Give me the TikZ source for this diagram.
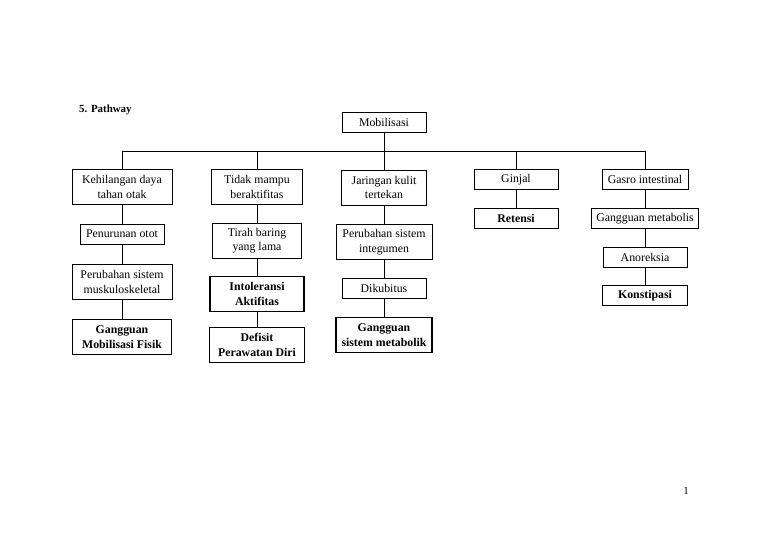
\documentclass[tikz,border=0pt]{standalone}
\usepackage{fontspec}
\setmainfont{Liberation Serif}
\usetikzlibrary{positioning}

\begin{document}
\begin{tikzpicture}
    [
        x=0.03867cm, y=-0.03867cm,
        on grid,
        box/.style={draw, rectangle, align=center, line width=0.6pt, inner sep=2pt, minimum height=0.77cm, font=\fontsize{13}{16}\selectfont},
        tallbox/.style={box, minimum height=1.36cm},
        endbox/.style={tallbox, line width=1.3pt, font=\fontsize{13}{16}\selectfont\bfseries},
        link/.style={draw, line width=0.6pt}
    ]
        \useasboundingbox (0,0) rectangle (768,543);
        % =========================================================================
        % NODES
        % =========================================================================
        \node [anchor=west, font=\fontsize{12}{14}\selectfont\bfseries] (title) at (76,110) {5. Pathway};
        \node [box, minimum width=3.25cm] (mob) at (384,122) {Mobilisasi};
        % --- Column 1 ---
        \node [tallbox, minimum width=3.87cm] (keh) at (122,187) {Kehilangan daya\\tahan otak};
        \node [box, minimum width=3.25cm, below=1.82cm of keh] (pen) {Penurunan otot};
        \node [tallbox, minimum width=3.87cm, below=1.86cm of pen] (perMusk) {Perubahan sistem\\muskuloskeletal};
        \node [endbox, minimum width=3.83cm, below=2.13cm of perMusk] (gangFisik) {Gangguan\\Mobilisasi Fisik};
        % --- Column 2 ---
        \node [tallbox, minimum width=3.52cm] (tid) at (257,187) {Tidak mampu\\beraktifitas};
        \node [tallbox, minimum width=3.44cm, below=2.07cm of tid] (tirah) {Tirah baring\\yang lama};
        \node [endbox, minimum width=3.63cm, below=2.07cm of tirah] (intol) {Intoleransi\\Aktifitas};
        \node [endbox, minimum width=3.67cm, below=1.97cm of intol] (defisit) {Defisit\\Perawatan Diri};
        % --- Column 3 ---
        \node [tallbox, minimum width=3.29cm] (jar) at (384,187.5) {Jaringan kulit\\tertekan};
        \node [tallbox, minimum width=3.71cm, below=2.11cm of jar] (perInteg) {Perubahan sistem\\integumen};
        \node [box, minimum width=3.25cm, below=1.80cm of perInteg] (dikub) {Dikubitus};
        \node [endbox, minimum width=3.71cm, below=1.80cm of dikub] (gangMeta) {Gangguan\\sistem metabolik};
        % --- Column 4 ---
        \node [box, minimum width=3.25cm] (gin) at (516,179.5) {Ginjal};
        \node [box, minimum width=3.25cm, below=1.51cm of gin, font=\fontsize{13}{16}\selectfont\bfseries] (retensi) {Retensi};
        % --- Column 5 ---
        \node [box, minimum width=3.33cm] (gas) at (645,179) {Gasro intestinal};
        \node [box, minimum width=4.14cm, below=1.53cm of gas] (gangMetab) {Gangguan metabolis};
        \node [box, minimum width=3.25cm, below=1.51cm of gangMetab] (anor) {Anoreksia};
        \node [box, minimum width=3.29cm, below=1.47cm of anor, line width=1.3pt, font=\fontsize{13}{16}\selectfont\bfseries] (konst) {Konstipasi};
        % --- Page number ---
        \node [font=\fontsize{12}{14}\selectfont] (page) at (686,491) {1};

        % =========================================================================
        % PATHS
        % =========================================================================
        % --- BUS ---
        \coordinate (bus) at (384,151);
        \draw [link] (mob.south) -- (jar.north);
        \draw [link] (keh.north) -- (keh.north |- bus) -| (gas.north);
        \draw [link] (tid.north) -- (tid.north |- bus);
        \draw [link] (gin.north) -- (gin.north |- bus);
        % --- VERTICAL ---
        %  Column 1
        \draw [link] (keh.south) -- (pen.north);
        \draw [link] (pen.south) -- (perMusk.north);
        \draw [link] (perMusk.south) -- (gangFisik.north);
        %  Column 2
        \draw [link] (tid.south) -- (tirah.north);
        \draw [link] (tirah.south) -- (intol.north);
        \draw [link] (intol.south) -- (defisit.north);
        %  Column 3
        \draw [link] (jar.south) -- (perInteg.north);
        \draw [link] (perInteg.south) -- (dikub.north);
        \draw [link] (dikub.south) -- (gangMeta.north);
        %  Column 4
        \draw [link] (gin.south) -- (retensi.north);
        %  Column 5
        \draw [link] (gas.south) -- (gangMetab.north);
        \draw [link] (gangMetab.south) -- (anor.north);
        \draw [link] (anor.south) -- (konst.north);
\end{tikzpicture}
\end{document}
